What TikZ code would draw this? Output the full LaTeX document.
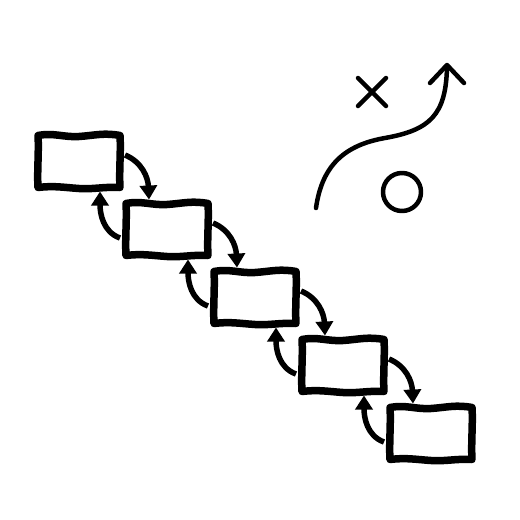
\documentclass[tikz,border=0pt]{standalone}
\usetikzlibrary{arrows.meta,calc}
\tikzset{
  boxnode/.style={minimum width=82pt,minimum height=53pt,inner sep=0pt},
  wavy/.style={line width=7.5pt,line join=round},
  flow/.style={line width=5.5pt,-{Triangle[width=17pt,length=14pt]}},
  icon/.style={line width=4.5pt,line cap=round,line join=round}
}
\newcommand\wbox[1]{%
  \begin{scope}[shift={(#1.center)}]
    \draw[wavy] (-41,-26) .. controls (-25,-29) and (-15,-24) .. (0,-25)
      .. controls (15,-26) and (25,-29) .. (41,-26)
      .. controls (42,-10) and (40,10) .. (41,26)
      .. controls (25,25) and (15,28) .. (0,27)
      .. controls (-15,26) and (-25,24) .. (-41,26)
      .. controls (-42,10) and (-40,-10) .. cycle;
  \end{scope}}
\begin{document}
\begin{tikzpicture}[x=1pt,y=-1pt]
\useasboundingbox (0,0) rectangle (520,520);
\node[boxnode] (b1) at (79,161.5) {};
\node[boxnode] (b2) at (167,229.5) {};
\node[boxnode] (b3) at (255,297.5) {};
\node[boxnode] (b4) at (343,365.5) {};
\node[boxnode] (b5) at (431,433.5) {};
\foreach \n in {b1,b2,b3,b4,b5} {\wbox{\n}}
\foreach \a/\b in {b1/b2,b2/b3,b3/b4,b4/b5} {
  \draw[flow] ([shift={(46,-6.5)}]\a.center) .. controls +(17,7) and +(-1,-22) .. ([shift={(-18,-30)}]\b.center);
  \draw[flow] ([shift={(-47,8.5)}]\b.center) .. controls +(-17,-6) and +(0,22) .. ([shift={(21,30)}]\a.center);
}
% play icon
\draw[icon] (316,208) .. controls (322,165) and (345,145) .. (385,138)
  .. controls (430,130) and (446,115) .. (447,67);
\draw[icon] (430,83) -- (447,65) -- (464,83);
\draw[icon] (358,78) -- (386,106);
\draw[icon] (386,78) -- (358,106);
\draw[icon] (402,192) circle[radius=19];
\end{tikzpicture}
\end{document}
